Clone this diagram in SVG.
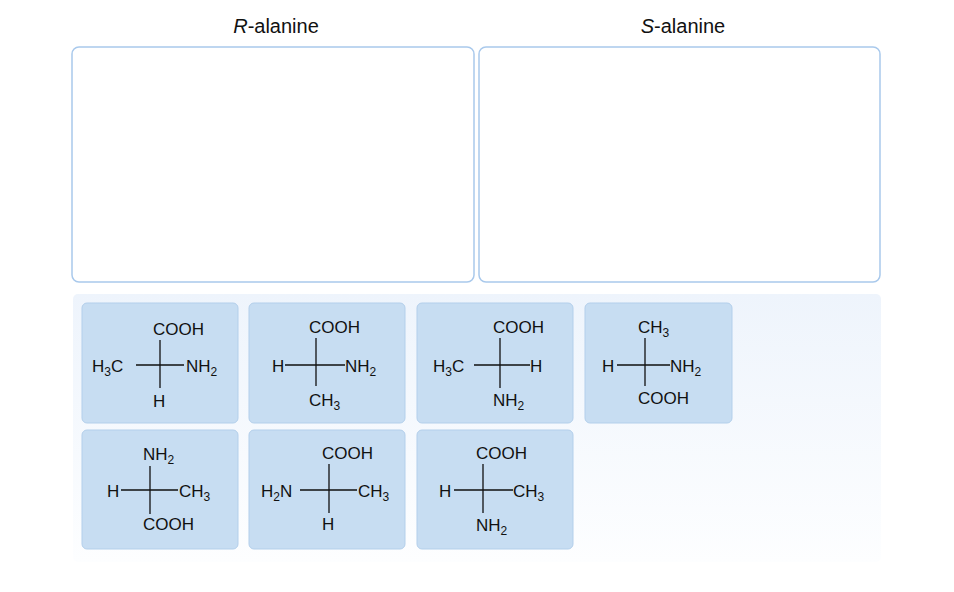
<svg xmlns="http://www.w3.org/2000/svg" width="954" height="592" viewBox="0 0 954 592">
<style>
text{font-family:"Liberation Sans",Arial,sans-serif;fill:#111}
.t{font-size:20px;text-anchor:middle}
.m{font-size:17px}
.s{font-size:12px}
.zone{fill:#fff;stroke:#a9c9ec;stroke-width:1.5}
.card{fill:#c7ddf2;stroke:#b3cfeb;stroke-width:1}
.b{stroke:#111;stroke-width:1.3;fill:none}
</style>
<defs><linearGradient id="g" x1="0" y1="0" x2="0" y2="1"><stop offset="0" stop-color="#eef4fc"/><stop offset="1" stop-color="#fdfeff"/></linearGradient></defs>
<rect width="954" height="592" fill="#fff"/>
<text class="t" x="276" y="33"><tspan font-style="italic">R</tspan>-alanine</text>
<text class="t" x="683" y="33"><tspan font-style="italic">S</tspan>-alanine</text>
<g id="zoneR"><rect class="zone" x="72" y="47" width="402" height="235" rx="7"/></g>
<g id="zoneS"><rect class="zone" x="479" y="47" width="401" height="235" rx="7"/></g>
<g id="tray"><rect x="73" y="294" width="808" height="268" rx="5" fill="url(#g)"/></g>

<g id="card1"><rect class="card" x="82" y="303" width="156" height="120" rx="5"/>
<path class="b" d="M160 340V388M136 365H184"/>
<text class="m" x="153" y="335">COOH</text>
<text class="m" x="92" y="372">H<tspan class="s" dy="4">3</tspan><tspan dy="-4">C</tspan></text>
<text class="m" x="186" y="372">NH<tspan class="s" dy="4">2</tspan></text>
<text class="m" x="153" y="407">H</text></g>

<g id="card2"><rect class="card" x="249" y="303" width="156" height="120" rx="5"/>
<path class="b" d="M316 338V386M285 365H345"/>
<text class="m" x="309" y="333">COOH</text>
<text class="m" x="272" y="372">H</text>
<text class="m" x="345" y="372">NH<tspan class="s" dy="4">2</tspan></text>
<text class="m" x="309" y="406">CH<tspan class="s" dy="4">3</tspan></text></g>

<g id="card3"><rect class="card" x="417" y="303" width="156" height="120" rx="5"/>
<path class="b" d="M500 338V388M474 365H530"/>
<text class="m" x="493" y="333">COOH</text>
<text class="m" x="433" y="372">H<tspan class="s" dy="4">3</tspan><tspan dy="-4">C</tspan></text>
<text class="m" x="530" y="372">H</text>
<text class="m" x="493" y="406">NH<tspan class="s" dy="4">2</tspan></text></g>

<g id="card4"><rect class="card" x="585" y="303" width="147" height="120" rx="5"/>
<path class="b" d="M645 338V386M617 365H670"/>
<text class="m" x="638" y="333">CH<tspan class="s" dy="4">3</tspan></text>
<text class="m" x="602" y="372">H</text>
<text class="m" x="670" y="372">NH<tspan class="s" dy="4">2</tspan></text>
<text class="m" x="638" y="404">COOH</text></g>

<g id="card5"><rect class="card" x="82" y="430" width="156" height="119" rx="5"/>
<path class="b" d="M150 466V514M121 490H178"/>
<text class="m" x="143" y="460">NH<tspan class="s" dy="4">2</tspan></text>
<text class="m" x="107" y="497">H</text>
<text class="m" x="179" y="497">CH<tspan class="s" dy="4">3</tspan></text>
<text class="m" x="143" y="530">COOH</text></g>

<g id="card6"><rect class="card" x="249" y="430" width="156" height="119" rx="5"/>
<path class="b" d="M329 464V513M300 490H357"/>
<text class="m" x="322" y="459">COOH</text>
<text class="m" x="261" y="497">H<tspan class="s" dy="4">2</tspan><tspan dy="-4">N</tspan></text>
<text class="m" x="358" y="497">CH<tspan class="s" dy="4">3</tspan></text>
<text class="m" x="322" y="530">H</text></g>

<g id="card7"><rect class="card" x="417" y="430" width="156" height="119" rx="5"/>
<path class="b" d="M483 464V513M454 490H513"/>
<text class="m" x="476" y="459">COOH</text>
<text class="m" x="439" y="497">H</text>
<text class="m" x="513" y="497">CH<tspan class="s" dy="4">3</tspan></text>
<text class="m" x="476" y="531">NH<tspan class="s" dy="4">2</tspan></text></g>
<g id="connectors"/>
</svg>
